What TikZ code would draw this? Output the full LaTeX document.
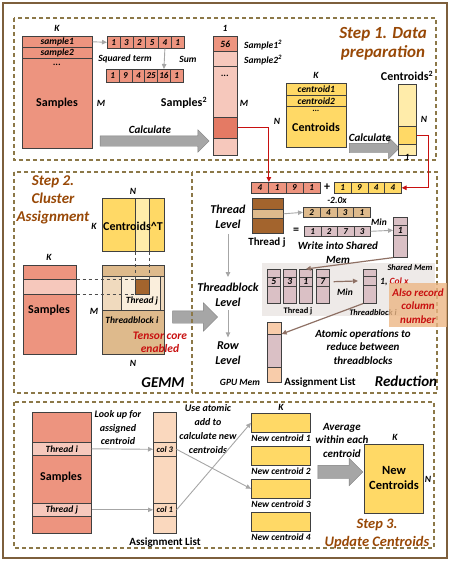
\documentclass[tikz,border=0pt]{standalone}
\usepackage{fontspec}
\setmainfont{Carlito}
\usetikzlibrary{arrows.meta,shapes.arrows}

\definecolor{sampcol}{RGB}{237,148,127}
\definecolor{samplight}{RGB}{246,200,188}
\definecolor{sampdark}{RGB}{228,122,100}
\definecolor{yellowc}{RGB}{255,217,102}
\definecolor{yellight}{RGB}{255,236,170}
\definecolor{tanc}{RGB}{222,186,140}
\definecolor{tanlight}{RGB}{240,218,190}
\definecolor{creamc}{RGB}{250,238,220}
\definecolor{brownc}{RGB}{163,100,45}
\definecolor{mauvec}{RGB}{218,192,197}
\definecolor{peachc}{RGB}{248,204,170}
\definecolor{peachl}{RGB}{250,216,190}
\definecolor{grayc}{RGB}{166,166,166}
\definecolor{brarrc}{RGB}{142,112,100}
\definecolor{redc}{RGB}{200,16,16}
\definecolor{dashc}{RGB}{140,120,72}
\definecolor{framec}{RGB}{125,95,60}
\definecolor{titlec}{RGB}{152,72,6}
\definecolor{sharedc}{RGB}{238,234,232}
\definecolor{orangec}{RGB}{236,182,132}

% box from (x1,y1) to (x2,y2), y counted downwards
\newcommand{\blockbox}[8][]{%
  \node[box, fill=#3, minimum width={#6-#4}, minimum height={#7-#5}, #1] (#2) at (#4,#5) {#8};}
% row of cells: name, x, y, cell width, height, fill, entries
\newcommand{\cellrow}[7]{%
  \foreach \v [count=\i] in {#7}
    \node[cell, fill=#6, minimum width=#4, minimum height=#5] (#1-\i) at ({#2+(\i-1)*#4},#3) {\v};}

\begin{document}
\begin{tikzpicture}[x=1pt, y=-1pt, >={Triangle[length=5pt,width=4.5pt]},
    box/.style={draw=black!75, line width=0.6pt, inner sep=0pt, anchor=north west},
    cell/.style={box, font=\bfseries\itshape\fontsize{9}{10}\selectfont},
    lab/.style={font=\bfseries\itshape\fontsize{9.5}{10}\selectfont, inner sep=1pt},
    small/.style={font=\bfseries\itshape\fontsize{8.5}{9}\selectfont, inner sep=1pt},
    big/.style={font=\bfseries\fontsize{12}{14}\selectfont, inner sep=1pt, align=center},
    note/.style={font=\bfseries\itshape\fontsize{10.5}{13.5}\selectfont, align=center, inner sep=1pt},
    title/.style={font=\bfseries\itshape\fontsize{15}{18}\selectfont, text=titlec, align=center, inner sep=1pt},
    level/.style={font=\bfseries\itshape\fontsize{12}{15}\selectfont, align=center, inner sep=1pt},
    panel/.style={draw=dashc, line width=1.1pt, dash pattern=on 4pt off 3pt},
    grayarr/.style={->, draw=grayc, line width=0.9pt},
    brarr/.style={->, draw=brarrc, line width=1.2pt},
    redarr/.style={->, draw=redc, line width=1.2pt},
    dashline/.style={draw=black!70, dashed, line width=0.6pt},
    bigarrow/.style={single arrow, fill=grayc, draw=gray, line width=0.4pt,
        inner sep=5pt, single arrow head extend=6pt}]
\useasboundingbox (0,0) rectangle (451,566);
\draw[framec, line width=1.6pt] (3,3) rectangle (447,558);

% Step 1
\draw[panel] (14,18) rectangle (436,160);
\node[title, font=\bfseries\itshape\fontsize{17}{19}\selectfont] (t1) at (383,44) {Step 1. Data\\preparation};

\blockbox{samp}{sampcol}{22}{36}{92}{148}{}
\blockbox[lab]{srow1}{sampcol}{22}{36}{92}{47}{sample1}
\blockbox[lab]{srow2}{sampcol}{22}{47}{92}{58}{sample2}
\node[lab] (sdots) at (57,65) {...};
\node[big] (sampt) at (57,103) {Samples};
\node[lab] (sK) at (57,28) {K};
\node[lab] (sM) at (101,103) {M};

\cellrow{sq}{107}{36}{12.8}{12}{sampcol}{1,3,2,5,4,1}
\cellrow{sqt}{106}{69}{12.8}{13}{sampcol}{1,9,4,25,16,1}
\draw[grayarr] (srow1.east) -- (sq-1.west);
\draw[grayarr] (sq-5.south) -- (sqt-5.north);
\node[lab] (sqlab) at (125,59) {Squared term};
\node[lab] (sumlab) at (188,59) {Sum};
\node[big] (s2lab) at (184,103) {Samples\textsuperscript{2}};

\node[bigarrow, minimum height=109pt] (calc1) at (152,141) {};
\node[note, font=\bfseries\itshape\fontsize{11}{12}\selectfont] (calc1t) at (150,130) {Calculate};

\blockbox{s2col}{samplight}{213}{36}{237}{155}{}
\blockbox[lab]{s2top}{sampcol}{213}{36}{237}{51}{56}
\blockbox{s2row}{samplight}{213}{51}{237}{66}{}
\node[lab] (s2dots) at (225,76) {...};
\blockbox{s2band}{sampdark}{213}{117}{237}{138}{}
\node[lab] (s2one) at (225,28) {1};
\node[lab, anchor=west] (s2l1) at (243,45) {Sample1\textsuperscript{2}};
\node[lab, anchor=west] (s2l2) at (243,60) {Sample2\textsuperscript{2}};
\node[lab] (s2M) at (244,103) {M};

\blockbox{cent}{yellowc}{286}{83}{346}{147}{}
\blockbox[lab]{crow1}{yellowc}{286}{83}{346}{95}{centroid1}
\blockbox[lab]{crow2}{yellowc}{286}{95}{346}{106}{centroid2}
\node[small] (cdots) at (316,111) {...};
\node[big] (centt) at (316,127) {Centroids};
\node[lab] (cK) at (316,75) {K};
\node[lab] (cN) at (277,121) {N};

\node[bigarrow, minimum height=50pt, inner sep=4.5pt] (calc2) at (372,148) {};
\node[note, font=\bfseries\itshape\fontsize{11}{12}\selectfont] (calc2t) at (370,138) {Calculate};

\blockbox{c2col}{yellight}{398}{84}{416}{155}{}
\blockbox{c2band}{yellowc}{398}{126}{416}{144}{}
\node[big] (c2lab) at (407,76) {Centroids\textsuperscript{2}};
\node[lab] (c2N) at (424,119) {N};
\node[lab] (c2one) at (407,157) {1};

% Step 2
\draw[panel] (14,172) rectangle (192,393);
\node[title] (t2) at (53,200) {Step 2.\\Cluster\\Assignment};

\blockbox{ct}{yellowc}{102}{198}{164}{251}{}
\blockbox{ctstrip}{yellight}{135}{198}{149}{251}{}
\node[big] (ctt) at (133,226) {Centroids\textasciicircum T};
\node[lab] (ctN) at (133,191) {N};
\node[lab] (ctK) at (94,226) {K};

\blockbox{samp2}{sampcol}{23}{265}{76}{354}{}
\blockbox{sband}{samplight}{23}{279}{76}{294}{}
\node[big] (samp2t) at (49,310) {Samples};
\node[lab] (s2K) at (49,257) {K};

\blockbox{res}{tanc}{102}{265}{164}{354}{}
\blockbox{tblk}{tanlight}{102}{276}{164}{310}{}
\blockbox{tthr}{creamc}{121}{276}{160}{310}{}
\blockbox{tsq}{brownc}{135}{279}{149}{294}{}
\draw[dashline] (sband.north east) -- (tsq.north west);
\draw[dashline] (sband.south east) -- (tsq.south west);
\draw[dashline] (ctstrip.south west) -- (tsq.north west);
\draw[dashline] (ctstrip.south east) -- (tsq.north east);
\node[lab] (tjl) at (142,301) {Thread j};
\node[lab] (tbl) at (132,320) {Threadblock i};
\node[note, text=redc, font=\bfseries\itshape\fontsize{11.5}{13}\selectfont] (tens) at (160,342) {Tensor core\\enabled};
\node[lab] (resN) at (133,363) {N};
\node[lab] (resM) at (94,311) {M};
\node[font=\bfseries\itshape\fontsize{15}{16}\selectfont] (gemm) at (163,383) {GEMM};
\node[bigarrow, minimum height=45pt, inner sep=6pt, single arrow head extend=8pt] (garr) at (192,317) {};

% Reduction
\draw[panel] (192,172) rectangle (437,393);
\cellrow{rv}{251}{182}{17.25}{11}{sampcol}{4,1,9,1}
\node[big] (plus) at (327,187) {+};
\cellrow{cv}{334}{182}{16.75}{11}{yellowc}{1,9,4,4}
\node[lab] (mul) at (337,200) {-2.0x};
\draw[redarr] (s2band.east) -| (rv-1.north east);
\draw[redarr] (c2band.east) -- ++(12,0) |- (cv-4.east);

\blockbox{tj}{brownc}{252}{198}{283}{233}{}
\blockbox{tjband}{tanc}{252}{209}{283}{218}{}
\node[big, font=\bfseries\fontsize{11}{12}\selectfont] (tjt) at (267,243) {Thread j};
\cellrow{gv}{303}{207}{16.75}{10}{tanc}{2,4,3,1}
\node[big] (eq) at (296,231) {=};
\cellrow{mv}{304}{226}{16.5}{10}{mauvec}{1,2,7,3}
\node[lab] (min1) at (379,222) {Min};
\blockbox{scol}{mauvec}{393}{217}{407}{257}{}
\blockbox{scolt}{mauvec}{393}{217}{407}{225}{}
\blockbox[lab]{scol1}{mauvec}{393}{225}{407}{235}{1}
\draw[grayarr] (tjband.east) -- (gv-1.west);
\draw[grayarr] (mv-4.east) -- (scol1.west);
\node[note, font=\bfseries\itshape\fontsize{11}{14}\selectfont] (wis) at (338,253) {Write into Shared\\Mem};

\node[level] (lv1) at (228,217) {Thread\\Level};
\node[level] (lv2) at (228,295) {Threadblock\\Level};
\node[level] (lv3) at (228,353) {Row\\Level};
\draw[grayarr, shorten <=4pt, shorten >=5pt] (lv1) -- (lv2);
\draw[grayarr, shorten <=2pt, shorten >=3pt] (lv2) -- (lv3);

\blockbox[draw=none]{shm}{sharedc}{262}{263}{435}{316}{}
\node[small] (shmt) at (410,268) {Shared Mem};
\foreach \v/\x [count=\i] in {5/267,3/283,1/299,7/316} {
  \blockbox{tc-\i}{mauvec}{\x}{269}{\x+13}{303}{}
  \blockbox{tct-\i}{mauvec}{\x}{269}{\x+13}{277}{}
  \blockbox[lab]{tcv-\i}{mauvec}{\x}{277}{\x+13}{286}{\v}
}
\node[small, font=\bfseries\fontsize{8.5}{9}\selectfont] (tcl) at (298,311) {Thread j};
\blockbox{tb}{mauvec}{363}{269}{376}{303}{}
\blockbox{tbt}{mauvec}{363}{269}{376}{276}{}
\blockbox{tbv}{mauvec}{363}{276}{376}{285}{}
\draw[brarr, shorten <=4pt, shorten >=5pt] (tcv-4.east) -- (tbv.west);
\node[lab] (min2) at (345,292) {Min};
\node[lab, anchor=west] (colx) at (379,282) {1, \textcolor{redc}{Col x}};
\node[small] (tbil) at (373,313) {Threadblock i};
\draw[brarr] (scol.south west) -- (tc-3.north);

\blockbox[draw=none, fill opacity=0.8]{rec}{orangec}{389}{283}{447}{327}{}
\node[note, text=redc, font=\bfseries\itshape\fontsize{11}{13.5}\selectfont] (rect) at (418,306) {Also record\\column\\number};

\blockbox{al}{peachc}{267}{322}{281}{382}{}
\blockbox{almid}{mauvec}{267}{334}{281}{367}{}
\draw[brarr] (tb.south west) -- (almid.north east);
\node[note, font=\bfseries\itshape\fontsize{11}{13.5}\selectfont] (atom) at (363,347) {Atomic operations to\\reduce between\\threadblocks};
\node[lab] (gpu) at (240,382) {GPU Mem};
\node[big, font=\bfseries\fontsize{11}{12}\selectfont] (alt) at (320,383) {Assignment List};
\node[font=\bfseries\itshape\fontsize{15}{16}\selectfont] (redt) at (406,381) {Reduction};

% Step 3
\draw[panel] (14,402) rectangle (434,548);
\blockbox{samp3}{sampcol}{32}{412}{91}{533}{}
\blockbox[lab]{thi}{samplight}{32}{442}{91}{455}{Thread i}
\blockbox[lab]{thj}{samplight}{32}{503}{91}{516}{Thread j}
\node[big] (samp3t) at (61,477) {Samples};
\blockbox{al3}{peachl}{153}{412}{176}{533}{}
\blockbox[lab, font=\bfseries\itshape\fontsize{8.5}{9}\selectfont]{col3}{peachl}{153}{442}{176}{456}{col 3}
\blockbox[lab, font=\bfseries\itshape\fontsize{8.5}{9}\selectfont]{col1}{peachl}{153}{503}{176}{516}{col 1}
\node[big, font=\bfseries\fontsize{11}{12}\selectfont] (al3t) at (165,543) {Assignment List};
\node[note, font=\bfseries\itshape\fontsize{10}{13.5}\selectfont] (look) at (118,428) {Look up for\\assigned\\centroid};
\node[note, font=\bfseries\itshape\fontsize{10}{14}\selectfont] (useat) at (208,429) {Use atomic\\add to\\calculate new\\centroids};

\foreach \y [count=\i] in {413,446,479,512} {
  \blockbox{nc\i}{yellowc}{251}{\y}{310}{\y+19}{}
  \node[lab] (nct\i) at (281,\y+25) {New centroid \i};
}
\node[lab] (ncK) at (281,407) {K};
\draw[grayarr] (thi.east) -- (col3.west);
\draw[grayarr] (thj.east) -- (col1.west);
\draw[grayarr] (col3.east) -- (nc3.west);
\draw[grayarr] (col1.east) -- (nc1.west);

\node[note, font=\bfseries\itshape\fontsize{11}{13.5}\selectfont] (avg) at (342,440) {Average\\within each\\centroid};
\node[bigarrow, minimum height=45pt, inner sep=6.5pt, single arrow head extend=7pt] (avgarr) at (337,472) {};
\blockbox{newc}{yellowc}{364}{444}{423}{513}{}
\node[big, font=\bfseries\fontsize{12.5}{15}\selectfont] (newct) at (394,478) {New\\Centroids};
\node[lab] (nK) at (395,437) {K};
\node[lab] (nN) at (428,479) {N};
\node[title, font=\bfseries\itshape\fontsize{14.5}{18}\selectfont] (t3) at (377,534) {Step 3.\\Update Centroids};
\end{tikzpicture}
\end{document}
